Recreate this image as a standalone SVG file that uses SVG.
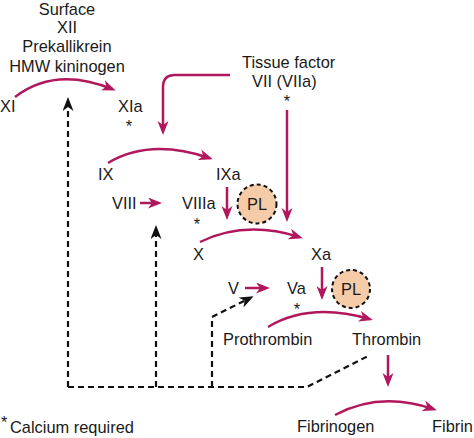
<svg xmlns="http://www.w3.org/2000/svg" width="474" height="438" viewBox="0 0 474 438">
<style>
text{font-family:"Liberation Sans",Arial,sans-serif;font-size:16.4px;fill:#1a1a1a}
.c{text-anchor:middle}
.m{fill:none;stroke:#b0175c;stroke-width:2.5}
.d{fill:none;stroke:#111;stroke-width:2.2;stroke-dasharray:6,4}
.pl{fill:#f5cba8;stroke:#111;stroke-width:2;stroke-dasharray:4,3}
</style>
<defs>
<marker id="am" markerUnits="userSpaceOnUse" markerWidth="16" markerHeight="12" refX="10" refY="5.5" orient="auto"><path d="M0,0 L14,5.5 L0,11 L4,5.5 z" fill="#b0175c"/></marker>
<marker id="ak" markerUnits="userSpaceOnUse" markerWidth="16" markerHeight="12" refX="10" refY="5.5" orient="auto"><path d="M0,0 L14,5.5 L0,11 L4,5.5 z" fill="#111"/></marker>
</defs>
<rect width="474" height="438" fill="#fff"/>
<g id="connectors">
<path class="d" d="M68,387 V101" marker-end="url(#ak)"/>
<path class="d" d="M156,387 V229" marker-end="url(#ak)"/>
<path class="d" d="M68,387 H307 L370,355"/>
<path class="d" d="M212,387 V317 L250,298" marker-end="url(#ak)"/>
<path class="m" d="M15,97 Q55,66 112,89" marker-end="url(#am)"/>
<path class="m" d="M230,75 H175 Q163,75 163,87 V131" marker-end="url(#am)"/>
<path class="m" d="M108,163 Q150,138 209,158" marker-end="url(#am)"/>
<path class="m" d="M140,203 H158" marker-end="url(#am)"/>
<path class="m" d="M227,187 V216" marker-end="url(#am)"/>
<path class="m" d="M287,110 V218" marker-end="url(#am)"/>
<path class="m" d="M200,242 Q245,220 299,237" marker-end="url(#am)"/>
<path class="m" d="M322,267 V296" marker-end="url(#am)"/>
<path class="m" d="M245,288 H266" marker-end="url(#am)"/>
<path class="m" d="M268,327 Q310,302 369,319" marker-end="url(#am)"/>
<path class="m" d="M388,355 V383" marker-end="url(#am)"/>
<path class="m" d="M335,415 Q380,391 433,409" marker-end="url(#am)"/>
</g>
<g id="surface"><text class="c" x="67" y="15">Surface</text><text class="c" x="67" y="33">XII</text><text class="c" x="67" y="52">Prekallikrein</text><text class="c" x="67" y="72">HMW kininogen</text></g>
<g id="XI"><text x="0" y="112">XI</text></g>
<g id="XIa"><text x="118" y="112">XIa</text><text class="c" x="129" y="132">*</text></g>
<g id="tissue"><text x="242" y="68">Tissue factor</text><text x="252" y="87">VII (VIIa)</text><text class="c" x="287" y="107">*</text></g>
<g id="IX"><text x="98" y="180">IX</text></g>
<g id="IXa"><text x="216" y="180">IXa</text></g>
<g id="VIII"><text x="112" y="209">VIII</text></g>
<g id="VIIIa"><text x="182" y="209">VIIIa</text><text class="c" x="197" y="230">*</text></g>
<g id="PL1"><circle class="pl" cx="257" cy="204" r="19.5"/><text class="c" x="257" y="210">PL</text></g>
<g id="X"><text x="193" y="260">X</text></g>
<g id="Xa"><text x="311" y="260">Xa</text></g>
<g id="PL2"><circle class="pl" cx="351" cy="289" r="19"/><text class="c" x="351" y="295">PL</text></g>
<g id="V"><text x="228" y="294">V</text></g>
<g id="Va"><text x="287" y="294">Va</text><text class="c" x="297" y="315">*</text></g>
<g id="prothrombin"><text x="223" y="345">Prothrombin</text></g>
<g id="thrombin"><text x="352" y="345">Thrombin</text></g>
<g id="fibrinogen"><text x="297" y="432">Fibrinogen</text></g>
<g id="fibrin"><text x="432" y="432">Fibrin</text></g>
<g id="legend"><text x="1" y="428">*</text><text x="10" y="433">Calcium required</text></g>
</svg>
